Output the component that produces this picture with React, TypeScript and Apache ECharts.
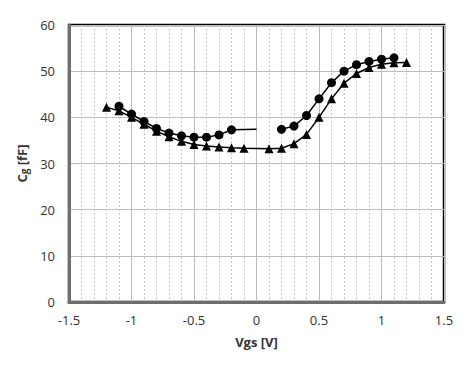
import React, { useEffect, useRef } from "react";
import * as echarts from "echarts";

const vgsCircle = [-1.1, -1.0, -0.9, -0.8, -0.7, -0.6, -0.5, -0.4, -0.3, -0.2, 0.0, null, 0.2, 0.3, 0.4, 0.5, 0.6, 0.7, 0.8, 0.9, 1.0, 1.1];
const cgCircle = [42.4, 40.7, 39.1, 37.6, 36.6, 36.0, 35.7, 35.7, 36.2, 37.3, 37.4, null, 37.4, 38.1, 40.4, 44.0, 47.5, 50.0, 51.4, 52.1, 52.6, 52.9];
const vgsTriangle = [-1.2, -1.1, -1.0, -0.9, -0.8, -0.7, -0.6, -0.5, -0.4, -0.3, -0.2, -0.1, 0.1, 0.2, 0.3, 0.4, 0.5, 0.6, 0.7, 0.8, 0.9, 1.0, 1.1, 1.2];
const cgTriangle = [42.2, 41.4, 40.0, 38.5, 37.0, 35.8, 34.8, 34.1, 33.8, 33.6, 33.4, 33.3, 33.2, 33.3, 34.3, 36.3, 40.0, 44.0, 47.4, 49.5, 50.8, 51.5, 51.8, 51.9];

const FONT = "'Open Sans', 'Noto Sans', sans-serif";

export default function App() {
  const ref = useRef<HTMLDivElement>(null);
  useEffect(() => {
    if (!ref.current) return;
    const chart = echarts.init(ref.current, undefined, { renderer: "svg" });
    const circleData = vgsCircle.map((x, i) => {
      if (x === null) return [null, null];
      const item: any = { value: [x, cgCircle[i]] };
      if (x === 0) item.symbol = "none";
      return item;
    });
    const triData = vgsTriangle.map((x, i) => [x, cgTriangle[i]]);
    chart.setOption({
      animation: false,
      backgroundColor: "#ffffff",
      grid: {
        left: 69,
        right: 30,
        top: 25,
        bottom: 78,
        show: true,
        borderColor: "#000000",
        borderWidth: 2.5,
        backgroundColor: "transparent",
      },
      xAxis: {
        type: "value",
        min: -1.5,
        max: 1.5,
        interval: 0.5,
        name: "Vgs [V]",
        nameLocation: "middle",
        nameGap: 33,
        nameTextStyle: { fontFamily: FONT, fontSize: 13, fontWeight: "bold", color: "#333" },
        axisLine: { show: true, onZero: false, lineStyle: { color: "#6e6e6e", width: 3 } },
        axisTick: { show: false },
        axisLabel: { fontFamily: FONT, fontSize: 13, color: "#333", margin: 11 },
        splitLine: { show: true, lineStyle: { color: "#bdbdbd", width: 1 } },
        minorTick: { show: false, splitNumber: 5 },
        minorSplitLine: { show: true, lineStyle: { color: "#c8c8c8", width: 1, type: [2, 2] } },
      },
      yAxis: {
        type: "value",
        min: 0,
        max: 60,
        interval: 10,
        name: "C{sub|g} [fF]",
        nameLocation: "middle",
        nameGap: 30,
        nameRotate: 90,
        nameTextStyle: {
          fontFamily: FONT,
          fontSize: 13,
          fontWeight: "bold",
          color: "#333",
          rich: {
            sub: { fontFamily: FONT, fontSize: 10, fontWeight: "bold", color: "#333", verticalAlign: "bottom", padding: [5, 0, 0, 0] },
          },
        },
        axisLine: { show: true, onZero: false, lineStyle: { color: "#6e6e6e", width: 3 } },
        axisTick: { show: false },
        axisLabel: { fontFamily: FONT, fontSize: 13, color: "#333", margin: 14 },
        splitLine: { show: true, lineStyle: { color: "#bdbdbd", width: 1 } },
      },
      series: [
        {
          type: "line",
          data: circleData,
          symbol: "circle",
          symbolSize: 9,
          connectNulls: false,
          itemStyle: { color: "#000" },
          lineStyle: { color: "#000", width: 1.5 },
          z: 3,
        },
        {
          type: "line",
          data: triData,
          symbol: "triangle",
          symbolSize: 9,
          itemStyle: { color: "#000" },
          lineStyle: { color: "#000", width: 1.5 },
          z: 3,
        },
      ],
    });
    return () => chart.dispose();
  }, []);
  return <div ref={ref} style={{ width: 474, height: 380, position: "absolute", left: 0, top: 0 }} />;
}
